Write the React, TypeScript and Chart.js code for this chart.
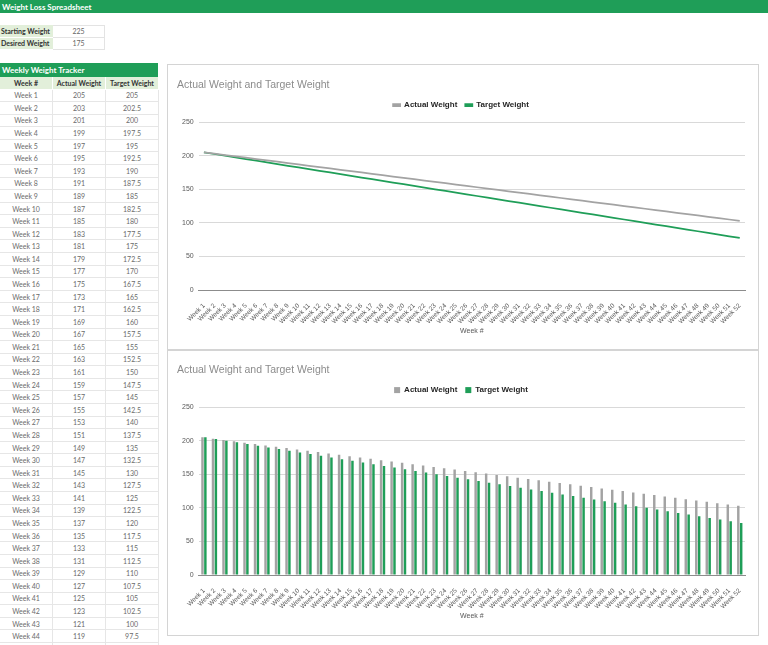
import React, { useEffect, useRef } from "react";
import { Chart, registerables, layouts } from "chart.js";

Chart.register(...registerables);

// Weekly tracker data
const weeks = [
  "Week 1", "Week 2", "Week 3", "Week 4", "Week 5", "Week 6", "Week 7", "Week 8", "Week 9", "Week 10",
  "Week 11", "Week 12", "Week 13", "Week 14", "Week 15", "Week 16", "Week 17", "Week 18", "Week 19", "Week 20",
  "Week 21", "Week 22", "Week 23", "Week 24", "Week 25", "Week 26", "Week 27", "Week 28", "Week 29", "Week 30",
  "Week 31", "Week 32", "Week 33", "Week 34", "Week 35", "Week 36", "Week 37", "Week 38", "Week 39", "Week 40",
  "Week 41", "Week 42", "Week 43", "Week 44", "Week 45", "Week 46", "Week 47", "Week 48", "Week 49", "Week 50",
  "Week 51", "Week 52",
];

const actualWeight = [
  205, 203, 201, 199, 197, 195, 193, 191, 189, 187,
  185, 183, 181, 179, 177, 175, 173, 171, 169, 167,
  165, 163, 161, 159, 157, 155, 153, 151, 149, 147,
  145, 143, 141, 139, 137, 135, 133, 131, 129, 127,
  125, 123, 121, 119, 117, 115, 113, 111, 109, 107,
  105, 103,
];

const targetWeight = [
  205, 202.5, 200, 197.5, 195, 192.5, 190, 187.5, 185, 182.5,
  180, 177.5, 175, 172.5, 170, 167.5, 165, 162.5, 160, 157.5,
  155, 152.5, 150, 147.5, 145, 142.5, 140, 137.5, 135, 132.5,
  130, 127.5, 125, 122.5, 120, 117.5, 115, 112.5, 110, 107.5,
  105, 102.5, 100, 97.5, 95, 92.5, 90, 87.5, 85, 82.5,
  80, 77.5,
];

const startingWeight = 225;
const desiredWeight = 175;

const yTicks = [0, 50, 100, 150, 200, 250];

const GREEN = "#1f9e58";
const GRAY = "#a3a3a3";
const LIGHT_GREEN = "#e2efda";
const TABLE_FONT = "Lato, 'Open Sans', sans-serif";
const CHART_FONT = "'Liberation Sans', Arial, sans-serif";

// plot area top edge inside each canvas
const PLOT_TOP = 57;
// extra gap between the legend row and the plot area
const LEGEND_GAP = 3;

const legendGapPlugin = {
  id: "legendGap",
  beforeInit(chart: any) {
    const spacer: any = {
      position: "top",
      weight: 500,
      fullSize: true,
      options: { stackWeight: 1 },
      width: 0,
      height: 0,
      left: 0,
      top: 0,
      right: 0,
      bottom: 0,
      isHorizontal: () => true,
      getPadding: () => ({ top: 0, left: 0, right: 0, bottom: 0 }),
      update(maxWidth: number) {
        spacer.width = maxWidth;
        spacer.height = LEGEND_GAP;
      },
      draw() {},
    };
    layouts.addBox(chart, spacer);
  },
};

function buildOptions(kind: "line" | "bar"): any {
  return {
    responsive: false,
    maintainAspectRatio: false,
    animation: false,
    layout: { padding: { left: 9, right: 13, top: 7, bottom: 15 } },
    plugins: {
      title: {
        display: true,
        text: "Actual Weight and Target Weight",
        align: "start",
        color: "#8c8c8c",
        font: { family: CHART_FONT, size: 10.5, weight: "normal" },
        padding: { top: 7, bottom: 1.5 },
      },
      legend: {
        display: true,
        position: "top",
        align: "center",
        labels: {
          color: "#262626",
          font: { family: CHART_FONT, size: 8, weight: "bold" },
          boxWidth: kind === "line" ? 7 : 6,
          boxHeight: kind === "line" ? 2 : 6,
          padding: 8,
        },
      },
      tooltip: { enabled: false },
    },
    scales: {
      x: {
        offset: true,
        afterFit: (scale: any) => {
          // rotated labels may overhang the axis ends; let the y axis set the left edge
          scale.paddingLeft = 0;
          scale.paddingRight = 0;
        },
        grid: { display: false },
        border: { display: true, color: "#8c8c8c", width: 1 },
        ticks: {
          autoSkip: false,
          maxRotation: 45,
          minRotation: 45,
          color: "#595959",
          font: { family: CHART_FONT, size: 6.5 },
          padding: 4,
        },
        title: {
          display: true,
          text: "Week #",
          color: "#595959",
          font: { family: CHART_FONT, size: 7 },
          padding: { top: -3, bottom: 0 },
        },
      },
      y: {
        min: yTicks[0],
        max: yTicks[yTicks.length - 1],
        afterBuildTicks: (scale: any) => {
          scale.ticks = yTicks.map((v) => ({ value: v }));
        },
        afterFit: (scale: any) => {
          scale.paddingTop = PLOT_TOP;
        },
        grid: { color: "#d9d9d9", drawTicks: false, lineWidth: 1 },
        border: { display: false },
        ticks: {
          color: "#595959",
          font: { family: CHART_FONT, size: 7 },
          padding: 5,
        },
      },
    },
  };
}

function WeightChart({ kind }: { kind: "line" | "bar" }) {
  const ref = useRef<HTMLCanvasElement | null>(null);
  useEffect(() => {
    if (!ref.current) return;
    const datasets =
      kind === "line"
        ? [
            {
              label: "Actual Weight",
              data: actualWeight,
              borderColor: GRAY,
              backgroundColor: GRAY,
              borderWidth: 1.75,
              pointRadius: 0,
              tension: 0,
            },
            {
              label: "Target Weight",
              data: targetWeight,
              borderColor: GREEN,
              backgroundColor: GREEN,
              borderWidth: 1.75,
              pointRadius: 0,
              tension: 0,
            },
          ]
        : [
            {
              label: "Actual Weight",
              data: actualWeight,
              backgroundColor: GRAY,
              borderWidth: 0,
              categoryPercentage: 0.55,
              barPercentage: 0.85,
            },
            {
              label: "Target Weight",
              data: targetWeight,
              backgroundColor: GREEN,
              borderWidth: 0,
              categoryPercentage: 0.55,
              barPercentage: 0.85,
            },
          ];
    const chart = new Chart(ref.current, {
      type: kind,
      data: { labels: weeks, datasets },
      options: buildOptions(kind),
      plugins: [legendGapPlugin],
    } as any);
    return () => chart.destroy();
  }, [kind]);
  return <canvas ref={ref} width={590} height={285} style={{ display: "block" }} />;
}

const ROW_H = 12.58;

export default function App() {
  const cell = (extra: React.CSSProperties): React.CSSProperties => ({
    position: "absolute",
    display: "flex",
    alignItems: "center",
    justifyContent: "center",
    boxSizing: "border-box",
    ...extra,
  });

  return (
    <div
      style={{
        position: "absolute",
        left: 0,
        top: 0,
        width: 768,
        height: 645,
        overflow: "hidden",
        background: "#ffffff",
        fontFamily: TABLE_FONT,
      }}
    >
      {/* Sheet banner */}
      <div
        style={cell({
          left: 0,
          top: 0,
          width: 768,
          height: 13,
          background: GREEN,
          color: "#ffffff",
          fontWeight: 700,
          fontSize: 8,
          justifyContent: "flex-start",
          paddingLeft: 2,
        })}
      >
        Weight Loss Spreadsheet
      </div>

      {/* Goal inputs */}
      {[
        ["Starting Weight", startingWeight],
        ["Desired Weight", desiredWeight],
      ].map(([label, value], i) => (
        <React.Fragment key={String(label)}>
          <div
            style={cell({
              left: 0,
              top: 25 + i * 12.5,
              width: 53,
              height: 12.5,
              background: LIGHT_GREEN,
              color: "#333",
              fontWeight: 700,
              fontSize: 7,
              justifyContent: "flex-start",
              paddingLeft: 1,
              borderBottom: "1px solid #ffffff",
            })}
          >
            {label}
          </div>
          <div
            style={cell({
              left: 53,
              top: 25 + i * 12.5,
              width: 52,
              height: 12.5,
              color: "#666",
              fontSize: 7,
              borderBottom: "1px solid #e3e3e3",
              borderRight: "1px solid #e3e3e3",
              borderTop: i === 0 ? "1px solid #e3e3e3" : undefined,
            })}
          >
            {value}
          </div>
        </React.Fragment>
      ))}

      {/* Weekly tracker table */}
      <div
        style={cell({
          left: 0,
          top: 63,
          width: 158,
          height: 14,
          background: GREEN,
          color: "#ffffff",
          fontWeight: 700,
          fontSize: 8,
          justifyContent: "flex-start",
          paddingLeft: 2,
        })}
      >
        Weekly Weight Tracker
      </div>
      {["Week #", "Actual Weight", "Target Weight"].map((h, c) => (
        <div
          key={h}
          style={cell({
            left: c * 53,
            top: 77,
            width: c === 2 ? 52 : 53,
            height: 12,
            background: LIGHT_GREEN,
            color: "#333",
            fontWeight: 700,
            fontSize: 7,
            borderRight: c < 2 ? "1px solid #ffffff" : undefined,
          })}
        >
          {h}
        </div>
      ))}
      {weeks.map((w, r) =>
        [w, actualWeight[r], targetWeight[r]].map((v, c) => (
          <div
            key={`${r}-${c}`}
            style={cell({
              left: c * 53,
              top: 89.5 + r * ROW_H,
              width: 53,
              height: ROW_H,
              color: "#6b6b6b",
              fontSize: 7,
              borderBottom: "1px solid #e6e6e6",
              borderRight: "1px solid #e6e6e6",
            })}
          >
            {v}
          </div>
        ))
      )}

      {/* Charts */}
      <div
        style={{
          position: "absolute",
          left: 167,
          top: 64,
          width: 590,
          height: 285,
          border: "1px solid #d4d4d4",
          boxSizing: "content-box",
        }}
      >
        <WeightChart kind="line" />
      </div>
      <div
        style={{
          position: "absolute",
          left: 167,
          top: 349,
          width: 590,
          height: 285,
          border: "1px solid #d4d4d4",
          boxSizing: "content-box",
        }}
      >
        <WeightChart kind="bar" />
      </div>
    </div>
  );
}
